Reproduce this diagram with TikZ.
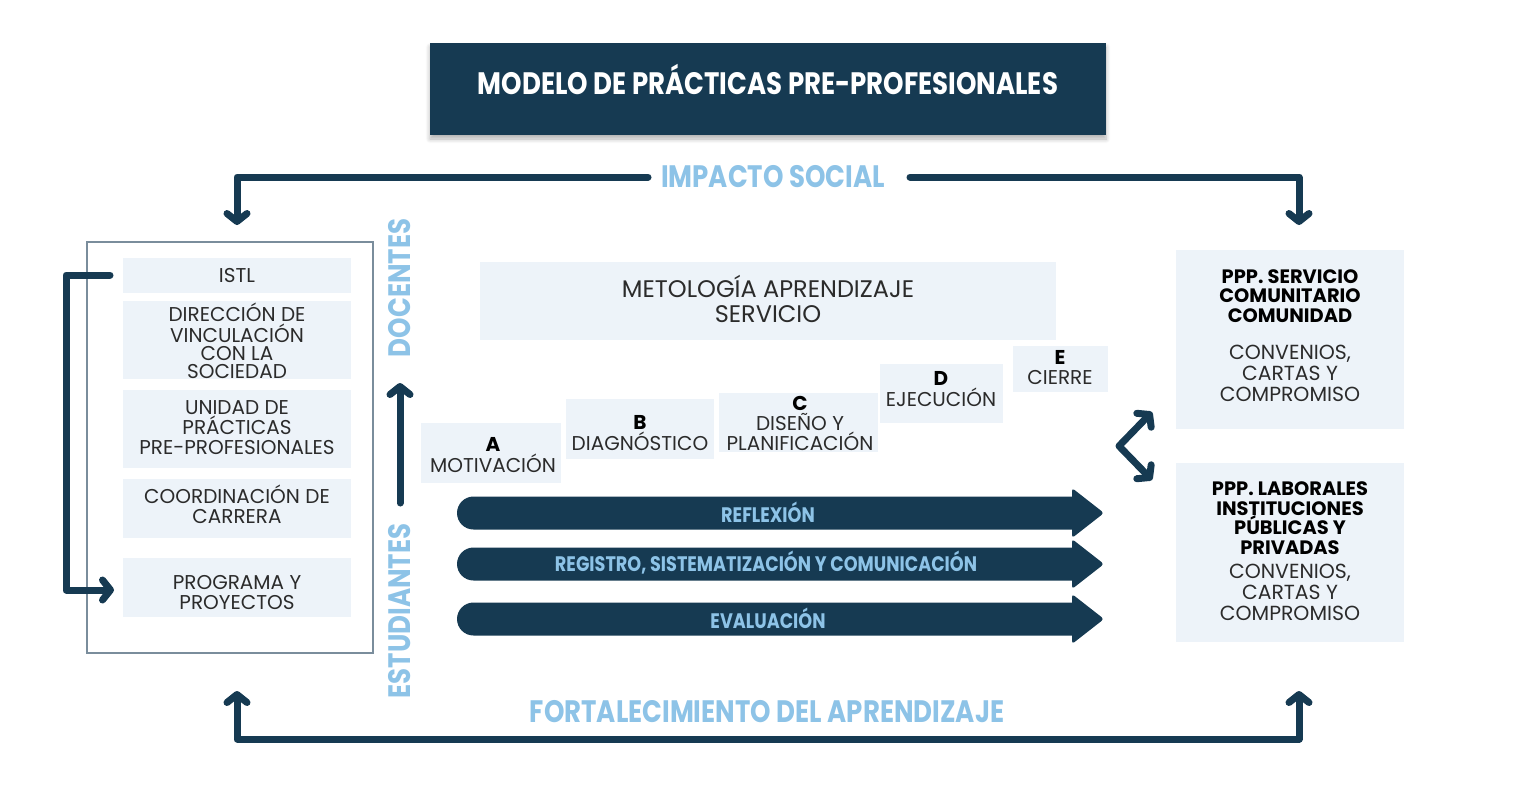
\documentclass[tikz,border=0pt]{standalone}
\usepackage{fontspec}
\setmainfont{Poppins}
\newfontfamily\headf[FakeStretch=0.84]{Poppins}
\newfontfamily\boldf{Poppins}
\newfontfamily\bodyf{Poppins}
\usetikzlibrary{arrows.meta,shadows.blur}
\definecolor{dark}{HTML}{163A52}
\definecolor{lblue}{HTML}{8DC3E7}
\definecolor{boxfill}{HTML}{EDF3F9}
\definecolor{txt}{HTML}{2B2B2B}
\definecolor{framec}{HTML}{7A8D9C}
\begin{document}
\begin{tikzpicture}[x=0.5pt,y=-0.5pt,
  conn/.style={draw=dark,line width=3.5pt,line cap=round,line join=round},
  tipend/.style={-{Straight Barb[length=4pt,width=10pt,round]}},
  tipboth/.style={{Straight Barb[length=4pt,width=10pt,round]}-{Straight Barb[length=4pt,width=10pt,round]}},
  pbox/.style={fill=boxfill,inner sep=0pt},
  bodytxt/.style={text=txt,font=\bodyf\fontsize{10}{10}\selectfont,align=center,inner sep=0pt},
  lettertxt/.style={text=black,font=\boldf\bfseries\fontsize{10}{10}\selectfont,inner sep=0pt},
  bluehead/.style={text=lblue,font=\headf\bfseries\fontsize{15.5}{18}\selectfont,inner sep=0pt},
  vlabel/.style={text=lblue,font=\headf\bfseries\fontsize{15.5}{16}\selectfont,inner sep=0pt,rotate=90},
  arrtxt/.style={text=lblue,font=\headf\bfseries\fontsize{10.5}{12}\selectfont,inner sep=0pt},
  rtitle/.style={text=black,font=\boldf\bfseries\fontsize{9.7}{9.75}\selectfont,align=center,inner sep=0pt},
  rsub/.style={text=txt,font=\bodyf\fontsize{10.2}{10.5}\selectfont,align=center,inner sep=0pt},
  bigarrow/.style={fill=dark}
]
\useasboundingbox (0,0) rectangle (1536,799);

% title
\node[fill=dark,inner sep=0pt,minimum width=338pt,minimum height=46pt,
  blur shadow={shadow xshift=0pt,shadow yshift=-2pt,shadow blur steps=6,shadow opacity=30}] (title) at (768,89) {};
\node[text=white,font=\headf\bfseries\fontsize{15.5}{18}\selectfont,inner sep=0pt] (titlet) at (768,79) {MODELO DE PRÁCTICAS PRE-PROFESIONALES};

% impacto social
\node[bluehead] (imp) at (773,177) {IMPACTO SOCIAL};
\coordinate (impL) at (648,177);
\coordinate (impR) at (910,177);
\coordinate (impLt) at (237,225);
\coordinate (impRt) at (1299,225);
\draw[conn,tipend] (impL) -| (impLt);
\draw[conn,tipend] (impR) -| (impRt);

% left panel
\node[draw=framec,line width=0.8pt,inner sep=0pt,minimum width=143pt,minimum height=205.5pt] (panel) at (230,447.5) {};
\node[pbox,minimum width=114pt,minimum height=17.5pt] (istl) at (237,275.5) {};
\node[bodytxt] (istlt) at (237,276) {ISTL};
\node[pbox,minimum width=114pt,minimum height=39pt] (dir) at (237,340) {};
\node[bodytxt,font=\bodyf\fontsize{10}{9}\selectfont] (dirt) at (237,341) {DIRECCIÓN DE\\VINCULACIÓN\\CON LA\\SOCIEDAD};
\node[pbox,minimum width=114pt,minimum height=39pt] (uni) at (237,429) {};
\node[bodytxt] (unit) at (237,428) {UNIDAD DE\\PRÁCTICAS\\PRE-PROFESIONALES};
\node[pbox,minimum width=114pt,minimum height=29.5pt] (coo) at (237,508.5) {};
\node[bodytxt] (coot) at (237,504) {COORDINACIÓN DE\\CARRERA};
\node[pbox,minimum width=114pt,minimum height=29.5pt] (prog) at (237,587.5) {};
\node[bodytxt] (progt) at (237,593) {PROGRAMA Y\\PROYECTOS};
\coordinate (brS) at (110,275);
\coordinate (brB) at (66,590);
\coordinate (brE) at (114,590);
\draw[conn,tipend] (brS) -| (brB) -- (brE);

% vertical labels and arrow
\node[vlabel] (doc) at (400,288) {DOCENTES};
\node[vlabel] (est) at (400,611) {ESTUDIANTES};
\coordinate (vS) at (400,503);
\coordinate (vE) at (400,383);
\draw[conn,tipend] (vS) -- (vE);

% methodology
\node[pbox,minimum width=288pt,minimum height=39pt] (met) at (768,301) {};
\node[bodytxt,font=\bodyf\fontsize{12}{12.5}\selectfont] (mett) at (768,299) {METOLOGÍA APRENDIZAJE\\SERVICIO};

% steps
\node[pbox,minimum width=70pt,minimum height=30pt] (sa) at (491,453) {};
\node[lettertxt] (sal) at (493,444) {A};
\node[bodytxt] (sat) at (493,463) {MOTIVACIÓN};
\node[pbox,minimum width=74pt,minimum height=30pt] (sb) at (640,429) {};
\node[lettertxt] (sbl) at (640,422) {B};
\node[bodytxt] (sbt) at (640,441) {DIAGNÓSTICO};
\node[pbox,minimum width=79.5pt,minimum height=29.5pt] (sc) at (798.5,422.5) {};
\node[lettertxt] (scl) at (800,403) {C};
\node[bodytxt] (sct) at (800,432) {DISEÑO Y\\PLANIFICACIÓN};
\node[pbox,minimum width=61.5pt,minimum height=29.5pt] (sd) at (941.5,393.5) {};
\node[lettertxt] (sdl) at (941,378) {D};
\node[bodytxt] (sdt) at (941,397) {EJECUCIÓN};
\node[pbox,minimum width=47.5pt,minimum height=23pt] (se) at (1060.5,369) {};
\node[lettertxt] (sel) at (1060,357) {E};
\node[bodytxt] (set) at (1060,377) {CIERRE};

% big arrows
\foreach \cy/\nm in {513/a1,564/a2,619/a3}{
  \fill[bigarrow,rounded corners=8.25pt] (1080,\cy-16.5) -- (457,\cy-16.5) -- (457,\cy+16.5) -- (1080,\cy+16.5);
  \fill[bigarrow,rounded corners=1.5pt] (1072,\cy-25) -- (1104,\cy) -- (1072,\cy+25) -- cycle;
}
\node[arrtxt] (r1) at (768,512) {REFLEXIÓN};
\node[arrtxt] (r2) at (766,563) {REGISTRO, SISTEMATIZACIÓN Y COMUNICACIÓN};
\node[arrtxt] (r3) at (768,618) {EVALUACIÓN};

% right boxes
\node[pbox,minimum width=114pt,minimum height=89.5pt] (rb1) at (1290,339.5) {};
\node[rtitle] (rb1t) at (1290,296) {PPP. SERVICIO\\COMUNITARIO\\COMUNIDAD};
\node[rsub] (rb1s) at (1290,373) {CONVENIOS,\\CARTAS Y\\COMPROMISO};
\node[pbox,minimum width=114pt,minimum height=89.5pt] (rb2) at (1290,552.5) {};
\node[rtitle] (rb2t) at (1290,518) {PPP. LABORALES\\INSTITUCIONES\\PÚBLICAS Y\\PRIVADAS};
\node[rsub] (rb2s) at (1290,592) {CONVENIOS,\\CARTAS Y\\COMPROMISO};

% double arrow
\coordinate (dU) at (1152,412);
\coordinate (dV) at (1119,446);
\coordinate (dD) at (1152,480);
\draw[conn,tipboth] (dU) -- (dV) -- (dD);

% bottom
\node[bluehead] (fort) at (767,712) {FORTALECIMIENTO DEL APRENDIZAJE};
\coordinate (bL) at (237,691);
\coordinate (bR) at (1299,691);
\coordinate (bM) at (768,739);
\draw[conn,tipboth] (bL) |- (bM) -| (bR);
\end{tikzpicture}
\end{document}
